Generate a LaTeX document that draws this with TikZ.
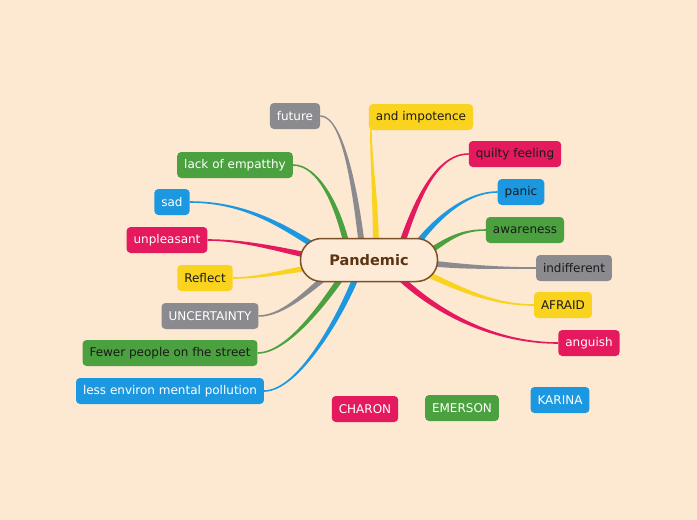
\documentclass[tikz,border=0pt]{standalone}
\usepackage{fontspec}
\setmainfont{DejaVu Sans}
\usetikzlibrary{calc}

\definecolor{bgpeach}{HTML}{FDE8D2}
\definecolor{hubfill}{HTML}{FDEBD7}
\definecolor{hubline}{HTML}{7B5028}
\definecolor{hubtext}{HTML}{5C3412}
\definecolor{mmgray}{HTML}{8B8B8F}
\definecolor{mmyellow}{HTML}{FAD31E}
\definecolor{mmpink}{HTML}{E5195E}
\definecolor{mmblue}{HTML}{1C98E1}
\definecolor{mmgreen}{HTML}{4BA03F}
\definecolor{ink}{HTML}{1A1A1A}

% tapered branch: colour, start, first control offset, end, second control offset
\newcommand\branch[5]{%
  \coordinate (bS) at (#2); \coordinate (bA) at ($(bS)+(#3)$);
  \coordinate (bE) at (#4); \coordinate (bB) at ($(bE)+(#5)$);
  \coordinate (sp) at ($(bS)!3pt!90:(bA)$); \coordinate (sm) at ($(bS)!3pt!-90:(bA)$);
  \coordinate (ep) at ($(bE)!0.8pt!-90:(bB)$); \coordinate (em) at ($(bE)!0.8pt!90:(bB)$);
  \fill[#1] (sp) .. controls ($(bA)+(sp)-(bS)$) and ($(bB)+(ep)-(bE)$) .. (ep)
    -- (em) .. controls ($(bB)+(em)-(bE)$) and ($(bA)+(sm)-(bS)$) .. (sm) -- cycle;}

\begin{document}
\begin{tikzpicture}[x=1pt, y=-1pt,
        leaf/.style={rounded corners=4pt, minimum height=26pt, inner xsep=7pt, inner ysep=0pt, font=\fontsize{12}{14}\selectfont},
        hub/.style={draw=hubline, line width=1.5pt, fill=hubfill, rounded corners=21pt, minimum width=137pt, minimum height=43pt, text=hubtext, font=\fontsize{14.5}{16}\selectfont\bfseries},
    ]
        \fill[bgpeach] (0,0) rectangle (697,520);

        % right side
        \node[leaf, fill=mmgray, text=white]   (fut) at (295,116) {future};
        \node[leaf, fill=mmyellow, text=ink]   (imp) at (421,117) {and impotence};
        \node[leaf, fill=mmpink, text=ink]     (qui) at (515,154) {quilty feeling};
        \node[leaf, fill=mmblue, text=ink]     (pan) at (521,192) {panic};
        \node[leaf, fill=mmgreen, text=ink]    (awa) at (525,230) {awareness};
        \node[leaf, fill=mmgray, text=ink]     (ind) at (574,268) {indifferent};
        \node[leaf, fill=mmyellow, text=ink]   (afr) at (563,305) {AFRAID};
        \node[leaf, fill=mmpink, text=white]   (ang) at (589,343) {anguish};
        % left side
        \node[leaf, fill=mmgreen, text=white]  (lac) at (235,165) {lack of empatthy};
        \node[leaf, fill=mmblue, text=white]   (sad) at (172,202) {sad};
        \node[leaf, fill=mmpink, text=white]   (unp) at (167,240) {unpleasant};
        \node[leaf, fill=mmyellow, text=ink]   (ref) at (205,278) {Reflect};
        \node[leaf, fill=mmgray, text=white]   (unc) at (210,316) {UNCERTAINTY};
        \node[leaf, fill=mmgreen, text=ink]    (few) at (170,353) {Fewer people on fhe street};
        \node[leaf, fill=mmblue, text=white]   (les) at (170,391) {less environ mental pollution};
        % names
        \node[leaf, fill=mmpink, text=white]   (cha) at (365,409) {CHARON};
        \node[leaf, fill=mmgreen, text=white]  (eme) at (462,408) {EMERSON};
        \node[leaf, fill=mmblue, text=white]   (kar) at (560,400) {KARINA};

        \coordinate (c) at (369,260);
        \branch{mmgray}{$(c)+(-6,-5)$}{-8,-70}{fut.east}{22,0}
        \branch{mmyellow}{$(c)+(7,-5)$}{0,-60}{$(imp.west)+(2,4)$}{0,45}
        \branch{mmpink}{$(c)+(30,-8)$}{15,-45}{qui.west}{-35,0}
        \branch{mmblue}{$(c)+(40,-5)$}{20,-30}{pan.west}{-35,0}
        \branch{mmgreen}{$(c)+(50,-2)$}{25,-15}{awa.west}{-30,0}
        \branch{mmgray}{$(c)+(50,2)$}{40,5}{ind.west}{-40,0}
        \branch{mmyellow}{$(c)+(45,8)$}{40,18}{afr.west}{-45,0}
        \branch{mmpink}{$(c)+(25,12)$}{40,40}{ang.west}{-65,0}
        \branch{mmgreen}{$(c)+(-20,-5)$}{-10,-50}{lac.east}{25,0}
        \branch{mmblue}{$(c)+(-40,-5)$}{-40,-25}{sad.east}{60,0}
        \branch{mmpink}{$(c)+(-40,0)$}{-40,-8}{unp.east}{40,0}
        \branch{mmyellow}{$(c)+(-40,5)$}{-40,5}{ref.east}{30,0}
        \branch{mmgray}{$(c)+(-35,10)$}{-25,20}{unc.east}{25,0}
        \branch{mmgreen}{$(c)+(-24,12)$}{-20,30}{few.east}{30,0}
        \branch{mmblue}{$(c)+(-11,12)$}{-15,40}{les.east}{35,0}

        \node[hub] (pdm) at (c) {Pandemic};
    \end{tikzpicture}
\end{document}
